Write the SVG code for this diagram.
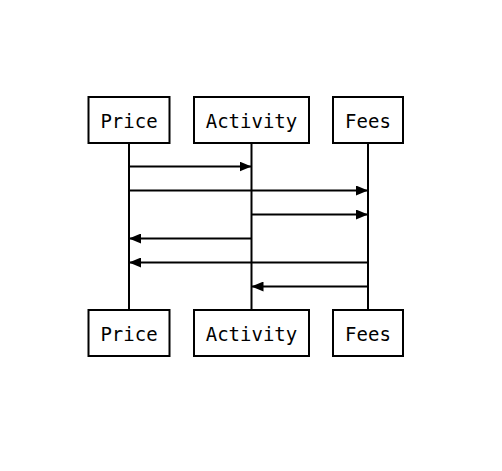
<svg xmlns="http://www.w3.org/2000/svg" width="502" height="471" viewBox="0 0 502 471">
<style>
.box{fill:#fff;stroke:#000;stroke-width:2}
.lbl{font-family:"DejaVu Sans Mono","Liberation Mono",monospace;font-size:19px;fill:#000;text-anchor:middle}
.life{stroke:#000;stroke-width:2}
.msg{stroke:#000;stroke-width:2;fill:none}
</style>
<defs>
<marker id="ah" viewBox="0 0 12 10" refX="12" refY="5" markerWidth="12" markerHeight="10" markerUnits="userSpaceOnUse" orient="auto">
<path d="M0,0 L12,5 L0,10 Z" fill="#000"/>
</marker>
</defs>
<rect width="502" height="471" fill="#fff"/>
<g id="connectors">
<line class="life" x1="129" y1="143" x2="129" y2="310"/>
<line class="life" x1="251.5" y1="143" x2="251.5" y2="310"/>
<line class="life" x1="368" y1="143" x2="368" y2="310"/>
<line class="msg" x1="129" y1="166.5" x2="251.5" y2="166.5" marker-end="url(#ah)"/>
<line class="msg" x1="129" y1="190.5" x2="368" y2="190.5" marker-end="url(#ah)"/>
<line class="msg" x1="251.5" y1="214.5" x2="368" y2="214.5" marker-end="url(#ah)"/>
<line class="msg" x1="251.5" y1="238.5" x2="129" y2="238.5" marker-end="url(#ah)"/>
<line class="msg" x1="368" y1="262.5" x2="129" y2="262.5" marker-end="url(#ah)"/>
<line class="msg" x1="368" y1="286.5" x2="251.5" y2="286.5" marker-end="url(#ah)"/>
</g>
<g id="price-top"><rect class="box" x="88.5" y="97" width="81" height="46"/><text class="lbl" x="129" y="127.5">Price</text></g>
<g id="activity-top"><rect class="box" x="194" y="97" width="115" height="46"/><text class="lbl" x="251.5" y="127.5">Activity</text></g>
<g id="fees-top"><rect class="box" x="333" y="97" width="70" height="46"/><text class="lbl" x="368" y="127.5">Fees</text></g>
<g id="price-bottom"><rect class="box" x="88.5" y="310" width="81" height="46"/><text class="lbl" x="129" y="340.5">Price</text></g>
<g id="activity-bottom"><rect class="box" x="194" y="310" width="115" height="46"/><text class="lbl" x="251.5" y="340.5">Activity</text></g>
<g id="fees-bottom"><rect class="box" x="333" y="310" width="70" height="46"/><text class="lbl" x="368" y="340.5">Fees</text></g>
</svg>
